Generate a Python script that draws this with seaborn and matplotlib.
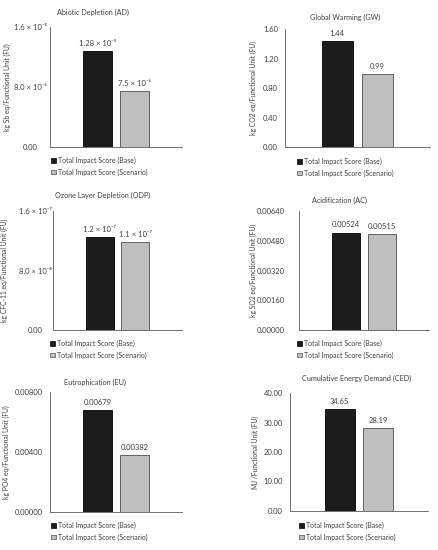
import matplotlib
matplotlib.use("Agg")
import matplotlib.pyplot as plt
from matplotlib.patches import Patch
import seaborn as sns
import pandas as pd

sns.set_style("white")
plt.rcParams['font.family'] = ['Lato', 'DejaVu Sans']

# --- data ---
series = ["Total Impact Score (Base)", "Total Impact Score (Scenario)"]

titles = ["Abiotic Depletion (AD)", "Global Warming (GW)",
          "Ozone Layer Depletion (ODP)", "Acidification (AC)",
          "Eutrophication (EU)", "Cumulative Energy Demand (CED)"]
ylabels = ["kg Sb eq/Functional Unit (FU)", "kg CO2 eq/Functional Unit (FU)",
           "kg CFC-11 eq/Functional Unit (FU)", "kg SO2 eq/Functional Unit (FU)",
           "kg PO4 eq/Functional Unit (FU)", "MJ /Functional Unit (FU)"]

ad_values = [1.28e-5, 7.5e-6]
gw_values = [1.44, 0.99]
odp_values = [1.25e-7, 1.18e-7]
ac_values = [0.00524, 0.00515]
eu_values = [0.00679, 0.00382]
ced_values = [34.65, 28.19]

ad_bar_labels = ["1.28 × 10⁻⁵", "7.5 × 10⁻⁶"]
gw_bar_labels = ["1.44", "0.99"]
odp_bar_labels = ["1.2 × 10⁻⁷", "1.1 × 10⁻⁷"]
ac_bar_labels = ["0.00524", "0.00515"]
eu_bar_labels = ["0.00679", "0.00382"]
ced_bar_labels = ["34.65", "28.19"]

ad_ticks = [0, 8.0e-6, 1.6e-5]
ad_tick_labels = ["0.00", "8.0 × 10⁻⁶", "1.6 × 10⁻⁵"]
gw_ticks = [0, 0.4, 0.8, 1.2, 1.6]
gw_tick_labels = ["0.00", "0.40", "0.80", "1.20", "1.60"]
odp_ticks = [0, 8.0e-8, 1.6e-7]
odp_tick_labels = ["0.00", "8.0 × 10⁻⁸", "1.6 × 10⁻⁷"]
ac_ticks = [0, 0.0016, 0.0032, 0.0048, 0.0064]
ac_tick_labels = ["0.00000", "0.00160", "0.00320", "0.00480", "0.00640"]
eu_ticks = [0, 0.004, 0.008]
eu_tick_labels = ["0.00000", "0.00400", "0.00800"]
ced_ticks = [0, 10, 20, 30, 40]
ced_tick_labels = ["0.00", "10.00", "20.00", "30.00", "40.00"]

values = [ad_values, gw_values, odp_values, ac_values, eu_values, ced_values]
bar_labels = [ad_bar_labels, gw_bar_labels, odp_bar_labels,
              ac_bar_labels, eu_bar_labels, ced_bar_labels]
ticks = [ad_ticks, gw_ticks, odp_ticks, ac_ticks, eu_ticks, ced_ticks]
tick_labels = [ad_tick_labels, gw_tick_labels, odp_tick_labels,
               ac_tick_labels, eu_tick_labels, ced_tick_labels]

# --- layout (pixels, origin top-left) ---
W, H = 439, 550
# left, right, top, bottom of each plot area
boxes = [(50, 182, 27, 147), (285, 430, 29, 147),
         (53, 182, 211, 330), (299, 429, 211, 330),
         (50, 182, 392, 512), (290, 428, 393, 511)]
title_xy = [(93, 12), (345, 17), (103, 195), (340, 200), (95, 382), (357, 378)]
ylabel_x = [11, 257, 8, 257, 10, 259]
tick_align = ["center", "right", "center", "right", "right", "right"]
tick_pad = [14, 5, 12.5, 10, 5, 5]
legend_xy = [(51, 157), (297, 158), (50, 340), (297, 340), (51, 522), (299, 522)]

colors = ["#1c1c1c", "#bfbfbf"]
edges = ["#000000", "#4d4d4d"]
text_color = "#404040"

fig = plt.figure(figsize=(W / 100, H / 100), dpi=100)

for i in range(6):
    l, r, t, b = boxes[i]
    ax = fig.add_axes([l / W, 1 - b / H, (r - l) / W, (b - t) / H])
    df = pd.DataFrame({"series": series, "value": values[i]})
    sns.barplot(data=df, x="series", y="value", hue="series",
                palette=colors, width=0.78, legend=False, ax=ax)
    for p, ec in zip(ax.patches, edges):
        p.set_edgecolor(ec)
        p.set_linewidth(0.6)
    for cont, lab in zip(ax.containers, bar_labels[i]):
        ax.bar_label(cont, labels=[lab], padding=3, fontsize=5.5, color=text_color)

    ax.set_xlim(-1.3, 2.3)
    ax.set_ylim(0, ticks[i][-1])
    ax.set_yticks(ticks[i])
    ax.set_yticklabels(tick_labels[i], fontsize=5.5, color=text_color)
    for lab in ax.get_yticklabels():
        lab.set_horizontalalignment(tick_align[i])
    ax.tick_params(axis="y", length=0, pad=tick_pad[i])
    ax.set_xticks([0.5, 2.3])
    ax.set_xticklabels([])
    ax.tick_params(axis="x", direction="out", length=1.5, width=0.5, colors="#595959")

    ax.set_xlabel("")
    ax.set_ylabel(ylabels[i], fontsize=4.9, color=text_color)
    ax.yaxis.set_label_coords((ylabel_x[i] - l) / (r - l), 0.5)

    for s in ["top", "right"]:
        ax.spines[s].set_visible(False)
    for s in ["left", "bottom"]:
        ax.spines[s].set_color("#595959")
        ax.spines[s].set_linewidth(0.6)

    fig.text(title_xy[i][0] / W, 1 - title_xy[i][1] / H, titles[i],
             ha="center", va="center", fontsize=5.2, color=text_color)

    handles = [Patch(facecolor=c, edgecolor=e, linewidth=0.5)
               for c, e in zip(colors, edges)]
    ax.legend(handles, series, loc="upper left",
              bbox_to_anchor=(legend_xy[i][0] / W, 1 - legend_xy[i][1] / H),
              bbox_transform=fig.transFigure, frameon=False, fontsize=5,
              handlelength=0.7, handleheight=0.7, handletextpad=0.3,
              labelspacing=0.6, borderpad=0, borderaxespad=0,
              labelcolor=text_color)

fig.savefig("out.png", dpi=100)
